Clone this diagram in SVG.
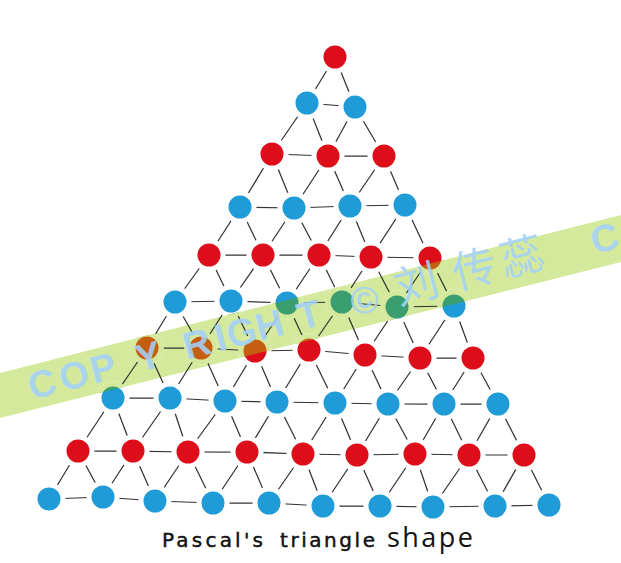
<svg xmlns="http://www.w3.org/2000/svg" xmlns:xlink="http://www.w3.org/1999/xlink" width="621" height="563" viewBox="0 0 621 563">
<defs>
<style>
.red{fill:#dd0d1a;stroke:#ffffff;stroke-width:5}
.blue{fill:#1f9bd7;stroke:#ffffff;stroke-width:5}
.tr{fill:#c65e12;stroke:#d5e99c;stroke-width:5}
.tb{fill:#3b9e6f;stroke:#d5e99c;stroke-width:5}
.conn path{fill:none;stroke:#333333;stroke-width:1.25;stroke-linejoin:round}
.wm{font-family:"Liberation Sans",Arial,sans-serif;font-size:38px;font-weight:bold;fill:#a3d1f7;fill-opacity:0.9}
.wmc{font-family:"Noto Sans CJK SC","Liberation Sans",sans-serif;font-size:44px;font-weight:normal}
.cap{font-family:"DejaVu Sans",Verdana,sans-serif;font-size:20px;fill:#111111;stroke:#111111;stroke-width:0.45}
.cap2{font-family:"Open Sans","DejaVu Sans",sans-serif;font-size:27px;fill:#111111}
</style>
<clipPath id="bandClip"><polygon points="0,373 621,215 621,262 0,418"/></clipPath>
</defs>
<rect width="621" height="563" fill="#ffffff"/>
<polygon id="band" points="0,373 621,215 621,262 0,418" fill="#d5e99c"/>
<g id="connectors" class="conn">
<path d="M307,103 L355,107"/>
<path d="M272,154 L328,156 L384,156"/>
<path d="M240,207 L294,208 L350,206 L405,205"/>
<path d="M209,255 L263,255 L319,255 L371,257 L430,258"/>
<path d="M175,302 L231,301 L287,303 L342,302 L397,307 L454,306"/>
<path d="M147,348 L201,348 L255,351 L309,350 L365,355 L420,358 L473,358"/>
<path d="M113,398 L170,398 L225,401 L277,402 L335,403 L388,404 L444,404 L498,404"/>
<path d="M78,451 L133,451 L188,452 L247,452 L303,454 L357,455 L415,454 L469,455 L524,455"/>
<path d="M49,499 L103,497 L155,501 L213,503 L269,503 L323,506 L380,506 L433,507 L495,506 L549,505"/>
<path d="M335,57 L307,103 L272,154 L240,207 L209,255 L175,302 L147,348 L113,398 L78,451 L49,499"/>
<path d="M355,107 L328,156 L294,208 L263,255 L231,301 L201,348 L170,398 L133,451 L103,497"/>
<path d="M384,156 L350,206 L319,255 L287,303 L255,351 L225,401 L188,452 L155,501"/>
<path d="M405,205 L371,257 L342,302 L309,350 L277,402 L247,452 L213,503"/>
<path d="M430,258 L397,307 L365,355 L335,403 L303,454 L269,503"/>
<path d="M454,306 L420,358 L388,404 L357,455 L323,506"/>
<path d="M473,358 L444,404 L415,454 L380,506"/>
<path d="M498,404 L469,455 L433,507"/>
<path d="M524,455 L495,506"/>
<path d="M335,57 L355,107 L384,156 L405,205 L430,258 L454,306 L473,358 L498,404 L524,455 L549,505"/>
<path d="M307,103 L328,156 L350,206 L371,257 L397,307 L420,358 L444,404 L469,455 L495,506"/>
<path d="M272,154 L294,208 L319,255 L342,302 L365,355 L388,404 L415,454 L433,507"/>
<path d="M240,207 L263,255 L287,303 L309,350 L335,403 L357,455 L380,506"/>
<path d="M209,255 L231,301 L255,351 L277,402 L303,454 L323,506"/>
<path d="M175,302 L201,348 L225,401 L247,452 L269,503"/>
<path d="M147,348 L170,398 L188,452 L213,503"/>
<path d="M113,398 L133,451 L155,501"/>
<path d="M78,451 L103,497"/>
</g>
<g id="nodes">
<g id="n1-1" class="red"><circle id="c1-1" cx="335" cy="57" r="14"/></g>
<g id="n2-1" class="blue"><circle id="c2-1" cx="307" cy="103" r="14"/></g>
<g id="n2-2" class="blue"><circle id="c2-2" cx="355" cy="107" r="14"/></g>
<g id="n3-1" class="red"><circle id="c3-1" cx="272" cy="154" r="14"/></g>
<g id="n3-2" class="red"><circle id="c3-2" cx="328" cy="156" r="14"/></g>
<g id="n3-3" class="red"><circle id="c3-3" cx="384" cy="156" r="14"/></g>
<g id="n4-1" class="blue"><circle id="c4-1" cx="240" cy="207" r="14"/></g>
<g id="n4-2" class="blue"><circle id="c4-2" cx="294" cy="208" r="14"/></g>
<g id="n4-3" class="blue"><circle id="c4-3" cx="350" cy="206" r="14"/></g>
<g id="n4-4" class="blue"><circle id="c4-4" cx="405" cy="205" r="14"/></g>
<g id="n5-1" class="red"><circle id="c5-1" cx="209" cy="255" r="14"/></g>
<g id="n5-2" class="red"><circle id="c5-2" cx="263" cy="255" r="14"/></g>
<g id="n5-3" class="red"><circle id="c5-3" cx="319" cy="255" r="14"/></g>
<g id="n5-4" class="red"><circle id="c5-4" cx="371" cy="257" r="14"/></g>
<g id="n5-5" class="red"><circle id="c5-5" cx="430" cy="258" r="14"/></g>
<g id="n6-1" class="blue"><circle id="c6-1" cx="175" cy="302" r="14"/></g>
<g id="n6-2" class="blue"><circle id="c6-2" cx="231" cy="301" r="14"/></g>
<g id="n6-3" class="blue"><circle id="c6-3" cx="287" cy="303" r="14"/></g>
<g id="n6-4" class="blue"><circle id="c6-4" cx="342" cy="302" r="14"/></g>
<g id="n6-5" class="blue"><circle id="c6-5" cx="397" cy="307" r="14"/></g>
<g id="n6-6" class="blue"><circle id="c6-6" cx="454" cy="306" r="14"/></g>
<g id="n7-1" class="red"><circle id="c7-1" cx="147" cy="348" r="14"/></g>
<g id="n7-2" class="red"><circle id="c7-2" cx="201" cy="348" r="14"/></g>
<g id="n7-3" class="red"><circle id="c7-3" cx="255" cy="351" r="14"/></g>
<g id="n7-4" class="red"><circle id="c7-4" cx="309" cy="350" r="14"/></g>
<g id="n7-5" class="red"><circle id="c7-5" cx="365" cy="355" r="14"/></g>
<g id="n7-6" class="red"><circle id="c7-6" cx="420" cy="358" r="14"/></g>
<g id="n7-7" class="red"><circle id="c7-7" cx="473" cy="358" r="14"/></g>
<g id="n8-1" class="blue"><circle id="c8-1" cx="113" cy="398" r="14"/></g>
<g id="n8-2" class="blue"><circle id="c8-2" cx="170" cy="398" r="14"/></g>
<g id="n8-3" class="blue"><circle id="c8-3" cx="225" cy="401" r="14"/></g>
<g id="n8-4" class="blue"><circle id="c8-4" cx="277" cy="402" r="14"/></g>
<g id="n8-5" class="blue"><circle id="c8-5" cx="335" cy="403" r="14"/></g>
<g id="n8-6" class="blue"><circle id="c8-6" cx="388" cy="404" r="14"/></g>
<g id="n8-7" class="blue"><circle id="c8-7" cx="444" cy="404" r="14"/></g>
<g id="n8-8" class="blue"><circle id="c8-8" cx="498" cy="404" r="14"/></g>
<g id="n9-1" class="red"><circle id="c9-1" cx="78" cy="451" r="14"/></g>
<g id="n9-2" class="red"><circle id="c9-2" cx="133" cy="451" r="14"/></g>
<g id="n9-3" class="red"><circle id="c9-3" cx="188" cy="452" r="14"/></g>
<g id="n9-4" class="red"><circle id="c9-4" cx="247" cy="452" r="14"/></g>
<g id="n9-5" class="red"><circle id="c9-5" cx="303" cy="454" r="14"/></g>
<g id="n9-6" class="red"><circle id="c9-6" cx="357" cy="455" r="14"/></g>
<g id="n9-7" class="red"><circle id="c9-7" cx="415" cy="454" r="14"/></g>
<g id="n9-8" class="red"><circle id="c9-8" cx="469" cy="455" r="14"/></g>
<g id="n9-9" class="red"><circle id="c9-9" cx="524" cy="455" r="14"/></g>
<g id="n10-1" class="blue"><circle id="c10-1" cx="49" cy="499" r="14"/></g>
<g id="n10-2" class="blue"><circle id="c10-2" cx="103" cy="497" r="14"/></g>
<g id="n10-3" class="blue"><circle id="c10-3" cx="155" cy="501" r="14"/></g>
<g id="n10-4" class="blue"><circle id="c10-4" cx="213" cy="503" r="14"/></g>
<g id="n10-5" class="blue"><circle id="c10-5" cx="269" cy="503" r="14"/></g>
<g id="n10-6" class="blue"><circle id="c10-6" cx="323" cy="506" r="14"/></g>
<g id="n10-7" class="blue"><circle id="c10-7" cx="380" cy="506" r="14"/></g>
<g id="n10-8" class="blue"><circle id="c10-8" cx="433" cy="507" r="14"/></g>
<g id="n10-9" class="blue"><circle id="c10-9" cx="495" cy="506" r="14"/></g>
<g id="n10-10" class="blue"><circle id="c10-10" cx="549" cy="505" r="14"/></g>
</g>
<g id="band-tint" clip-path="url(#bandClip)">
<use href="#c5-5" xlink:href="#c5-5" class="tr"/>
<use href="#c6-2" xlink:href="#c6-2" class="tb"/>
<use href="#c6-3" xlink:href="#c6-3" class="tb"/>
<use href="#c6-4" xlink:href="#c6-4" class="tb"/>
<use href="#c6-5" xlink:href="#c6-5" class="tb"/>
<use href="#c6-6" xlink:href="#c6-6" class="tb"/>
<use href="#c7-1" xlink:href="#c7-1" class="tr"/>
<use href="#c7-2" xlink:href="#c7-2" class="tr"/>
<use href="#c7-3" xlink:href="#c7-3" class="tr"/>
<use href="#c7-4" xlink:href="#c7-4" class="tr"/>
<use href="#c8-1" xlink:href="#c8-1" class="tb"/>
</g>
<g id="watermark" transform="translate(0,408) rotate(-14.5)">
<text class="wm" y="0"><tspan x="33">C</tspan><tspan x="65">O</tspan><tspan x="97">P</tspan><tspan x="144">Y</tspan><tspan x="172"> </tspan><tspan x="193">R</tspan><tspan x="226">I</tspan><tspan x="238">G</tspan><tspan x="268">H</tspan><tspan x="311">T</tspan><tspan x="366">©</tspan><tspan x="412" class="wmc">刘</tspan><tspan x="472" class="wmc">传</tspan><tspan x="521" class="wmc">蕊</tspan></text>
<text class="wm" x="614" y="0">C</text>
</g>
<g id="caption">
<text class="cap" x="162" y="547" textLength="101" lengthAdjust="spacing">Pascal's</text>
<text class="cap" x="280" y="547" textLength="95" lengthAdjust="spacing">triangle</text>
<text class="cap2" x="387" y="547" textLength="86" lengthAdjust="spacing">shape</text>
</g>
</svg>
